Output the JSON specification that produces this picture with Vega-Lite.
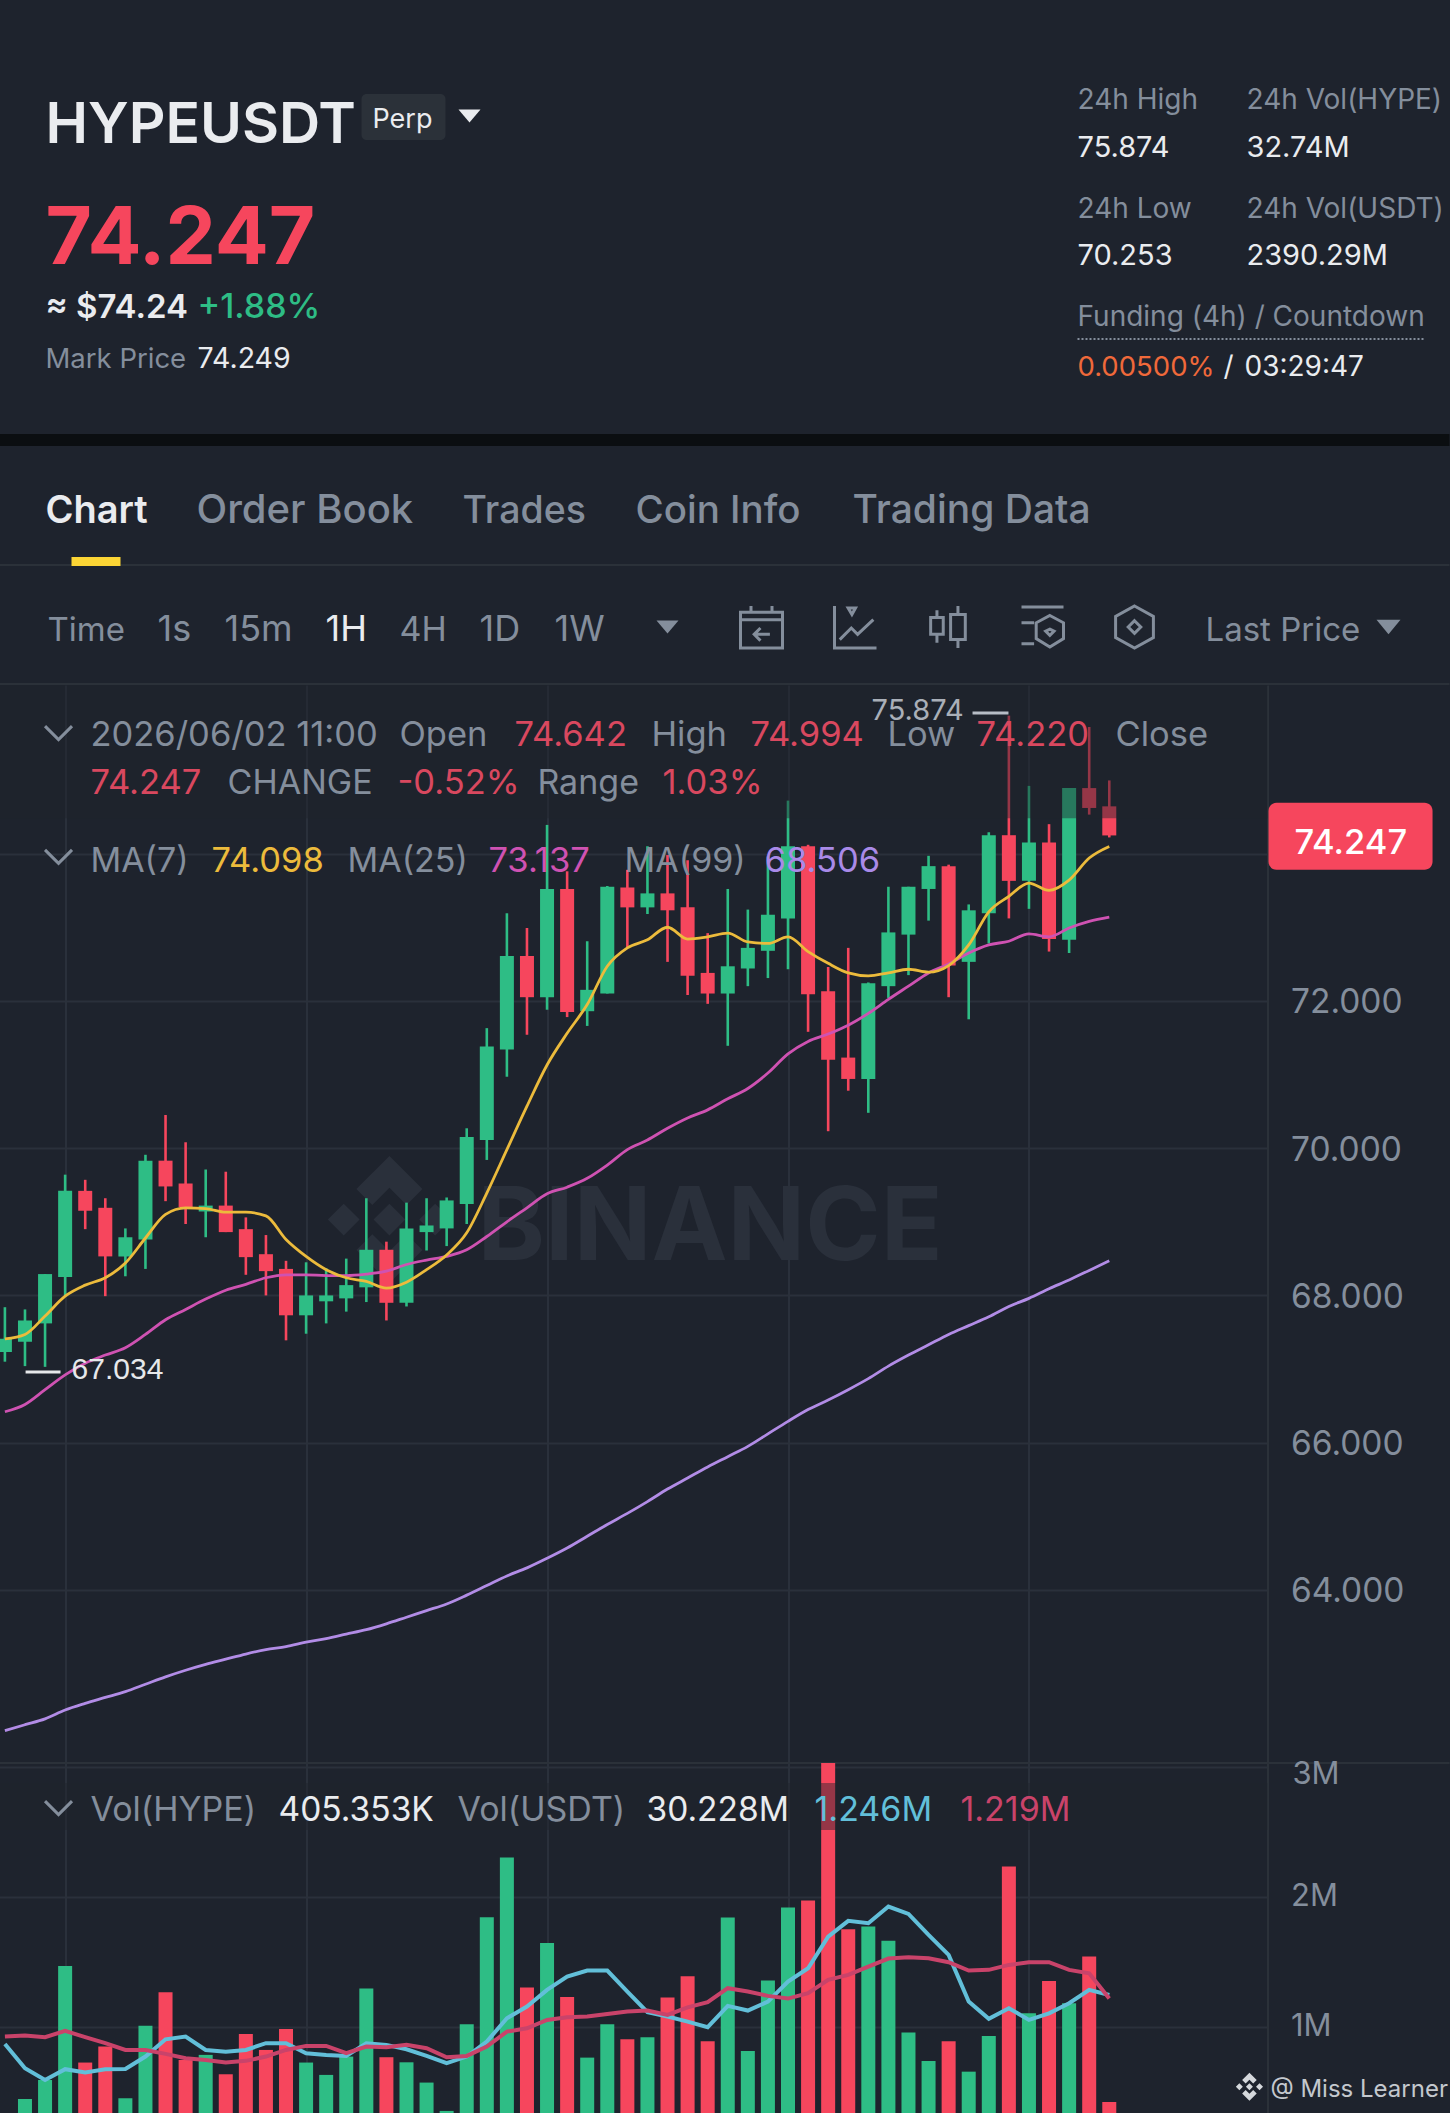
{
  "$schema": "https://vega.github.io/schema/vega-lite/v6.json",
  "background": "#1e232d",
  "padding": {"left": -2.5, "right": 0, "top": 0, "bottom": 0},
  "spacing": 0,
  "bounds": "flush",
  "config": {
    "view": {"stroke": null},
    "text": {"font": "Inter", "align": "left", "baseline": "alphabetic"},
    "concat": {"spacing": 0}
  },
  "datasets": {
    "candles": [
      {"i":0,"side":"up","open":67.23,"high":67.84,"low":67.10,"close":67.41,"ma7":67.41,"ma25":66.42,"ma99":62.09,"volume":0.30,"volFast":0.869,"volSlow":0.926},
      {"i":1,"side":"up","open":67.37,"high":67.81,"low":67.04,"close":67.66,"ma7":67.47,"ma25":66.52,"ma99":62.17,"volume":0.446,"volFast":0.682,"volSlow":0.934},
      {"i":2,"side":"up","open":67.62,"high":68.29,"low":67.03,"close":68.29,"ma7":67.72,"ma25":66.72,"ma99":62.25,"volume":0.592,"volFast":0.592,"volSlow":0.921},
      {"i":3,"side":"up","open":68.25,"high":69.64,"low":67.99,"close":69.42,"ma7":67.99,"ma25":66.92,"ma99":62.37,"volume":1.469,"volFast":0.675,"volSlow":0.969},
      {"i":4,"side":"down","open":69.42,"high":69.57,"low":68.90,"close":69.15,"ma7":68.14,"ma25":67.08,"ma99":62.46,"volume":0.726,"volFast":0.649,"volSlow":0.921},
      {"i":5,"side":"down","open":69.19,"high":69.32,"low":67.99,"close":68.53,"ma7":68.24,"ma25":67.19,"ma99":62.54,"volume":0.849,"volFast":0.675,"volSlow":0.875},
      {"i":6,"side":"up","open":68.53,"high":68.91,"low":68.26,"close":68.79,"ma7":68.44,"ma25":67.29,"ma99":62.62,"volume":0.451,"volFast":0.677,"volSlow":0.823},
      {"i":7,"side":"up","open":68.76,"high":69.91,"low":68.36,"close":69.83,"ma7":68.78,"ma25":67.47,"ma99":62.72,"volume":1.010,"volFast":0.772,"volSlow":0.823},
      {"i":8,"side":"down","open":69.83,"high":70.45,"low":69.28,"close":69.48,"ma7":69.10,"ma25":67.67,"ma99":62.82,"volume":1.267,"volFast":0.905,"volSlow":0.793},
      {"i":9,"side":"down","open":69.52,"high":70.08,"low":68.97,"close":69.20,"ma7":69.19,"ma25":67.81,"ma99":62.91,"volume":0.746,"volFast":0.926,"volSlow":0.759},
      {"i":10,"side":"up","open":69.14,"high":69.71,"low":68.79,"close":69.22,"ma7":69.18,"ma25":67.95,"ma99":62.99,"volume":0.785,"volFast":0.823,"volSlow":0.746},
      {"i":11,"side":"down","open":69.22,"high":69.68,"low":68.86,"close":68.86,"ma7":69.13,"ma25":68.07,"ma99":63.06,"volume":0.636,"volFast":0.810,"volSlow":0.726},
      {"i":12,"side":"down","open":68.90,"high":69.06,"low":68.28,"close":68.52,"ma7":69.13,"ma25":68.15,"ma99":63.13,"volume":0.946,"volFast":0.823,"volSlow":0.739},
      {"i":13,"side":"down","open":68.56,"high":68.82,"low":68.00,"close":68.33,"ma7":69.08,"ma25":68.24,"ma99":63.19,"volume":0.823,"volFast":0.875,"volSlow":0.772},
      {"i":14,"side":"down","open":68.36,"high":68.47,"low":67.39,"close":67.73,"ma7":68.76,"ma25":68.28,"ma99":63.23,"volume":0.985,"volFast":0.875,"volSlow":0.823},
      {"i":15,"side":"up","open":67.73,"high":68.45,"low":67.48,"close":68.00,"ma7":68.53,"ma25":68.28,"ma99":63.29,"volume":0.726,"volFast":0.798,"volSlow":0.854},
      {"i":16,"side":"up","open":67.92,"high":68.37,"low":67.62,"close":68.00,"ma7":68.35,"ma25":68.27,"ma99":63.34,"volume":0.631,"volFast":0.785,"volSlow":0.854},
      {"i":17,"side":"up","open":67.96,"high":68.50,"low":67.78,"close":68.14,"ma7":68.24,"ma25":68.27,"ma99":63.40,"volume":0.772,"volFast":0.777,"volSlow":0.798},
      {"i":18,"side":"up","open":68.11,"high":69.32,"low":67.91,"close":68.62,"ma7":68.19,"ma25":68.29,"ma99":63.46,"volume":1.295,"volFast":0.875,"volSlow":0.849},
      {"i":19,"side":"down","open":68.62,"high":68.73,"low":67.66,"close":67.90,"ma7":68.10,"ma25":68.33,"ma99":63.54,"volume":0.767,"volFast":0.862,"volSlow":0.844},
      {"i":20,"side":"up","open":67.90,"high":69.26,"low":67.85,"close":68.91,"ma7":68.18,"ma25":68.42,"ma99":63.63,"volume":0.728,"volFast":0.828,"volSlow":0.862},
      {"i":21,"side":"up","open":68.86,"high":69.32,"low":68.61,"close":68.95,"ma7":68.35,"ma25":68.48,"ma99":63.72,"volume":0.572,"volFast":0.777,"volSlow":0.836},
      {"i":22,"side":"up","open":68.91,"high":69.33,"low":68.67,"close":69.29,"ma7":68.55,"ma25":68.53,"ma99":63.81,"volume":0.354,"volFast":0.721,"volSlow":0.767},
      {"i":23,"side":"up","open":69.24,"high":70.27,"low":68.97,"close":70.15,"ma7":68.85,"ma25":68.62,"ma99":63.93,"volume":1.021,"volFast":0.772,"volSlow":0.777},
      {"i":24,"side":"up","open":70.11,"high":71.63,"low":69.84,"close":71.38,"ma7":69.39,"ma25":68.80,"ma99":64.06,"volume":1.844,"volFast":0.887,"volSlow":0.849},
      {"i":25,"side":"up","open":71.34,"high":73.19,"low":70.97,"close":72.61,"ma7":69.98,"ma25":69.00,"ma99":64.19,"volume":2.303,"volFast":1.067,"volSlow":0.964},
      {"i":26,"side":"down","open":72.61,"high":72.99,"low":71.54,"close":72.05,"ma7":70.57,"ma25":69.19,"ma99":64.30,"volume":1.303,"volFast":1.157,"volSlow":0.990},
      {"i":27,"side":"up","open":72.05,"high":74.39,"low":71.88,"close":73.52,"ma7":71.13,"ma25":69.38,"ma99":64.43,"volume":1.646,"volFast":1.285,"volSlow":1.054},
      {"i":28,"side":"down","open":73.52,"high":73.76,"low":71.78,"close":71.85,"ma7":71.56,"ma25":69.47,"ma99":64.57,"volume":1.231,"volFast":1.387,"volSlow":1.075},
      {"i":29,"side":"up","open":71.86,"high":72.81,"low":71.66,"close":72.15,"ma7":71.95,"ma25":69.59,"ma99":64.73,"volume":0.764,"volFast":1.434,"volSlow":1.080},
      {"i":30,"side":"up","open":72.10,"high":73.56,"low":72.10,"close":73.55,"ma7":72.47,"ma25":69.77,"ma99":64.89,"volume":1.021,"volFast":1.434,"volSlow":1.100},
      {"i":31,"side":"down","open":73.54,"high":73.78,"low":72.72,"close":73.27,"ma7":72.72,"ma25":69.98,"ma99":65.04,"volume":0.905,"volFast":1.272,"volSlow":1.118},
      {"i":32,"side":"up","open":73.27,"high":74.10,"low":73.18,"close":73.46,"ma7":72.83,"ma25":70.11,"ma99":65.20,"volume":0.921,"volFast":1.113,"volSlow":1.126},
      {"i":33,"side":"down","open":73.46,"high":73.98,"low":72.53,"close":73.23,"ma7":73.00,"ma25":70.27,"ma99":65.37,"volume":1.226,"volFast":1.080,"volSlow":1.092},
      {"i":34,"side":"down","open":73.27,"high":73.91,"low":72.08,"close":72.34,"ma7":72.84,"ma25":70.41,"ma99":65.52,"volume":1.390,"volFast":1.041,"volSlow":1.151},
      {"i":35,"side":"down","open":72.38,"high":72.92,"low":71.96,"close":72.10,"ma7":72.87,"ma25":70.52,"ma99":65.67,"volume":0.890,"volFast":0.998,"volSlow":1.190},
      {"i":36,"side":"up","open":72.10,"high":73.52,"low":71.39,"close":72.47,"ma7":72.92,"ma25":70.67,"ma99":65.81,"volume":1.841,"volFast":1.162,"volSlow":1.298},
      {"i":37,"side":"up","open":72.44,"high":73.24,"low":72.20,"close":72.72,"ma7":72.80,"ma25":70.81,"ma99":65.95,"volume":0.815,"volFast":1.126,"volSlow":1.272},
      {"i":38,"side":"up","open":72.68,"high":73.96,"low":72.31,"close":73.17,"ma7":72.78,"ma25":71.02,"ma99":66.12,"volume":1.357,"volFast":1.195,"volSlow":1.239},
      {"i":39,"side":"up","open":73.12,"high":74.72,"low":72.43,"close":74.10,"ma7":72.87,"ma25":71.28,"ma99":66.29,"volume":1.918,"volFast":1.349,"volSlow":1.218},
      {"i":40,"side":"down","open":74.10,"high":74.12,"low":71.58,"close":72.09,"ma7":72.67,"ma25":71.45,"ma99":66.45,"volume":1.972,"volFast":1.451,"volSlow":1.259},
      {"i":41,"side":"down","open":72.13,"high":72.46,"low":70.23,"close":71.20,"ma7":72.51,"ma25":71.55,"ma99":66.58,"volume":3.05,"volFast":1.695,"volSlow":1.362},
      {"i":42,"side":"down","open":71.23,"high":72.72,"low":70.78,"close":70.94,"ma7":72.38,"ma25":71.67,"ma99":66.72,"volume":1.751,"volFast":1.816,"volSlow":1.400},
      {"i":43,"side":"up","open":70.94,"high":72.25,"low":70.48,"close":72.24,"ma7":72.34,"ma25":71.83,"ma99":66.87,"volume":1.772,"volFast":1.798,"volSlow":1.464},
      {"i":44,"side":"up","open":72.20,"high":73.55,"low":72.04,"close":72.93,"ma7":72.38,"ma25":72.02,"ma99":67.04,"volume":1.662,"volFast":1.926,"volSlow":1.526},
      {"i":45,"side":"up","open":72.90,"high":73.55,"low":72.35,"close":73.55,"ma7":72.43,"ma25":72.20,"ma99":67.19,"volume":0.957,"volFast":1.869,"volSlow":1.536},
      {"i":46,"side":"up","open":73.52,"high":73.97,"low":73.09,"close":73.83,"ma7":72.39,"ma25":72.38,"ma99":67.33,"volume":0.738,"volFast":1.708,"volSlow":1.528},
      {"i":47,"side":"down","open":73.83,"high":73.85,"low":72.05,"close":72.48,"ma7":72.48,"ma25":72.50,"ma99":67.47,"volume":0.890,"volFast":1.554,"volSlow":1.498},
      {"i":48,"side":"up","open":72.53,"high":73.31,"low":71.75,"close":73.23,"ma7":72.76,"ma25":72.65,"ma99":67.59,"volume":0.656,"volFast":1.195,"volSlow":1.434},
      {"i":49,"side":"up","open":73.19,"high":74.29,"low":72.78,"close":74.25,"ma7":73.21,"ma25":72.76,"ma99":67.71,"volume":0.931,"volFast":1.062,"volSlow":1.439},
      {"i":50,"side":"down","open":74.25,"high":75.874,"low":73.12,"close":73.63,"ma7":73.42,"ma25":72.81,"ma99":67.85,"volume":2.233,"volFast":1.144,"volSlow":1.477},
      {"i":51,"side":"up","open":73.63,"high":74.92,"low":73.25,"close":74.15,"ma7":73.60,"ma25":72.91,"ma99":67.96,"volume":1.105,"volFast":1.054,"volSlow":1.498},
      {"i":52,"side":"down","open":74.15,"high":74.40,"low":72.67,"close":72.84,"ma7":73.50,"ma25":72.87,"ma99":68.09,"volume":1.354,"volFast":1.105,"volSlow":1.498},
      {"i":53,"side":"up","open":72.83,"high":74.89,"low":72.65,"close":74.89,"ma7":73.64,"ma25":72.99,"ma99":68.21,"volume":1.182,"volFast":1.182,"volSlow":1.439},
      {"i":54,"side":"down","open":74.89,"high":75.72,"low":74.53,"close":74.62,"ma7":73.94,"ma25":73.08,"ma99":68.34,"volume":1.541,"volFast":1.285,"volSlow":1.413},
      {"i":55,"side":"down","open":74.642,"high":74.994,"low":74.220,"close":74.247,"ma7":74.098,"ma25":73.137,"ma99":68.47,"volume":0.423,"volFast":1.246,"volSlow":1.219}
    ]
  },
  "vconcat": [
    {
      "width": 1450,
      "height": 685,
      "data": {"values": [{"panel": "header"}]},
      "encoding": {
        "x": {"type": "quantitative", "scale": {"domain": [0, 1450], "nice": false, "zero": false}, "axis": null},
        "y": {"type": "quantitative", "scale": {"domain": [685, 0], "nice": false, "zero": false}, "axis": null}
      },
      "layer": [
        {"mark": {"type": "rect", "color": "#0b0e11"}, "encoding": {"x": {"datum": 0}, "x2": {"datum": 1450}, "y": {"datum": 434}, "y2": {"datum": 446}}},
        {"mark": {"type": "rule", "color": "#2b3139", "strokeWidth": 2}, "encoding": {"x": {"datum": 0}, "x2": {"datum": 1450}, "y": {"datum": 565}}},
        {"mark": {"type": "rule", "color": "#2b3139", "strokeWidth": 2}, "encoding": {"x": {"datum": 0}, "x2": {"datum": 1450}, "y": {"datum": 684}}},
        {"mark": {"type": "rect", "color": "#fcd535"}, "encoding": {"x": {"datum": 72}, "x2": {"datum": 121}, "y": {"datum": 557}, "y2": {"datum": 566}}},
        {"mark": {"type": "rect", "color": "#2b3139", "cornerRadius": 5}, "encoding": {"x": {"datum": 362}, "x2": {"datum": 446}, "y": {"datum": 94}, "y2": {"datum": 140}}},
        {"mark": {"type": "point", "shape": "M-1,-.6 L1,-.6 0,.6 Z", "size": 484, "filled": true, "opacity": 1, "color": "#eaecef"}, "encoding": {"x": {"datum": 470}, "y": {"datum": 116}}},
        {"mark": {"type": "point", "shape": "M-1,-.6 L1,-.6 0,.6 Z", "size": 484, "filled": true, "opacity": 1, "color": "#848e9c"}, "encoding": {"x": {"datum": 668}, "y": {"datum": 627}}},
        {"mark": {"type": "point", "shape": "M-1,-.6 L1,-.6 0,.6 Z", "size": 576, "filled": true, "opacity": 1, "color": "#848e9c"}, "encoding": {"x": {"datum": 1389}, "y": {"datum": 627}}},
        {"mark": {"type": "rule", "color": "#848e9c", "strokeWidth": 2, "strokeDash": [2, 2]}, "encoding": {"x": {"datum": 1078}, "x2": {"datum": 1425}, "y": {"datum": 339}}},
        {"mark": {"type": "point", "filled": false, "opacity": 1, "stroke": "#848e9c", "strokeWidth": 3, "size": 1764, "shape": "M-1,-.7 H1 V1 H-1 Z M-1,-.35 H1 M-.5,-1 V-.7 M.5,-1 V-.7 M.4,.35 H-.35 M-.05,.05 L-.35,.35 -.05,.65"}, "encoding": {"x": {"datum": 762}, "y": {"datum": 627}}},
        {"mark": {"type": "point", "filled": false, "opacity": 1, "stroke": "#848e9c", "strokeWidth": 3, "size": 1764, "shape": "M-1,-1 V1 H1 M-.75,.6 L-.2,.05 .1,.35 .85,-.35 M-.35,-.9 H0 L-.17,-.6 Z"}, "encoding": {"x": {"datum": 856}, "y": {"datum": 627}}},
        {"mark": {"type": "point", "filled": false, "opacity": 1, "stroke": "#848e9c", "strokeWidth": 3, "size": 1764, "shape": "M-.85,-.45 H-.25 V.35 H-.85 Z M-.55,-.8 V-.45 M-.55,.35 V.75 M.1,-.6 H.8 V.6 H.1 Z M.45,-1 V-.6 M.45,.6 V1"}, "encoding": {"x": {"datum": 949}, "y": {"datum": 627}}},
        {"mark": {"type": "point", "filled": false, "opacity": 1, "stroke": "#848e9c", "strokeWidth": 3, "size": 1764, "shape": "M-1,-.95 H1 M-1,-.2 H-.4 M-1,.8 H-.4 M.35,-.55 L1,-.2 V.55 L.35,.95 -.3,.55 V-.2 Z M.35,.1 L.55,.2 .35,.4 .15,.2 Z"}, "encoding": {"x": {"datum": 1043}, "y": {"datum": 627}}},
        {"mark": {"type": "point", "filled": false, "opacity": 1, "stroke": "#848e9c", "strokeWidth": 3, "size": 1764, "shape": "M0,-1 L.9,-.5 V.5 L0,1 -.9,.5 V-.5 Z M0,-.3 L.3,0 0,.3 -.3,0 Z"}, "encoding": {"x": {"datum": 1135}, "y": {"datum": 627}}},
        {"mark": {"type": "text", "fontSize": 57, "fontWeight": 600, "color": "#eaecef"}, "encoding": {"x": {"datum": 46}, "y": {"datum": 143}, "text": {"value": "HYPEUSDT"}}},
        {"mark": {"type": "text", "fontSize": 27, "color": "#eaecef"}, "encoding": {"x": {"datum": 373}, "y": {"datum": 128}, "text": {"value": "Perp"}}},
        {"mark": {"type": "text", "fontSize": 80, "fontWeight": 700, "color": "#f6465d"}, "encoding": {"x": {"datum": 46}, "y": {"datum": 264}, "text": {"value": "74.247"}}},
        {"mark": {"type": "text", "fontSize": 33, "fontWeight": 600, "color": "#eaecef"}, "encoding": {"x": {"datum": 46}, "y": {"datum": 318}, "text": {"value": "≈ $74.24"}}},
        {"mark": {"type": "text", "fontSize": 34, "fontWeight": 500, "color": "#2ebd85"}, "encoding": {"x": {"datum": 198}, "y": {"datum": 318}, "text": {"value": "+1.88%"}}},
        {"mark": {"type": "text", "fontSize": 27.5, "color": "#848e9c"}, "encoding": {"x": {"datum": 46}, "y": {"datum": 368}, "text": {"value": "Mark Price"}}},
        {"mark": {"type": "text", "fontSize": 28.5, "color": "#eaecef"}, "encoding": {"x": {"datum": 198}, "y": {"datum": 368}, "text": {"value": "74.249"}}},
        {"mark": {"type": "text", "fontSize": 28, "color": "#848e9c"}, "encoding": {"x": {"datum": 1078}, "y": {"datum": 109}, "text": {"value": "24h High"}}},
        {"mark": {"type": "text", "fontSize": 28, "color": "#848e9c"}, "encoding": {"x": {"datum": 1247}, "y": {"datum": 109}, "text": {"value": "24h Vol(HYPE)"}}},
        {"mark": {"type": "text", "fontSize": 29, "color": "#eaecef"}, "encoding": {"x": {"datum": 1078}, "y": {"datum": 157}, "text": {"value": "75.874"}}},
        {"mark": {"type": "text", "fontSize": 29, "color": "#eaecef"}, "encoding": {"x": {"datum": 1247}, "y": {"datum": 157}, "text": {"value": "32.74M"}}},
        {"mark": {"type": "text", "fontSize": 28, "color": "#848e9c"}, "encoding": {"x": {"datum": 1078}, "y": {"datum": 218}, "text": {"value": "24h Low"}}},
        {"mark": {"type": "text", "fontSize": 28, "color": "#848e9c"}, "encoding": {"x": {"datum": 1247}, "y": {"datum": 218}, "text": {"value": "24h Vol(USDT)"}}},
        {"mark": {"type": "text", "fontSize": 29, "color": "#eaecef"}, "encoding": {"x": {"datum": 1078}, "y": {"datum": 265}, "text": {"value": "70.253"}}},
        {"mark": {"type": "text", "fontSize": 29, "color": "#eaecef"}, "encoding": {"x": {"datum": 1247}, "y": {"datum": 265}, "text": {"value": "2390.29M"}}},
        {"mark": {"type": "text", "fontSize": 28, "color": "#848e9c"}, "encoding": {"x": {"datum": 1078}, "y": {"datum": 326}, "text": {"value": "Funding (4h) / Countdown"}}},
        {"mark": {"type": "text", "fontSize": 27.5, "color": "#f0693a"}, "encoding": {"x": {"datum": 1078}, "y": {"datum": 376}, "text": {"value": "0.00500%"}}},
        {"mark": {"type": "text", "fontSize": 28, "color": "#eaecef"}, "encoding": {"x": {"datum": 1224}, "y": {"datum": 376}, "text": {"value": "/"}}},
        {"mark": {"type": "text", "fontSize": 28, "color": "#eaecef"}, "encoding": {"x": {"datum": 1245}, "y": {"datum": 376}, "text": {"value": "03:29:47"}}},
        {"mark": {"type": "text", "fontSize": 38, "fontWeight": 600, "color": "#eaecef"}, "encoding": {"x": {"datum": 46}, "y": {"datum": 523}, "text": {"value": "Chart"}}},
        {"mark": {"type": "text", "fontSize": 40, "fontWeight": 500, "color": "#848e9c"}, "encoding": {"x": {"datum": 197}, "y": {"datum": 523}, "text": {"value": "Order Book"}}},
        {"mark": {"type": "text", "fontSize": 37.5, "fontWeight": 500, "color": "#848e9c"}, "encoding": {"x": {"datum": 463}, "y": {"datum": 523}, "text": {"value": "Trades"}}},
        {"mark": {"type": "text", "fontSize": 38.5, "fontWeight": 500, "color": "#848e9c"}, "encoding": {"x": {"datum": 636}, "y": {"datum": 523}, "text": {"value": "Coin Info"}}},
        {"mark": {"type": "text", "fontSize": 39, "fontWeight": 500, "color": "#848e9c"}, "encoding": {"x": {"datum": 853}, "y": {"datum": 523}, "text": {"value": "Trading Data"}}},
        {"mark": {"type": "text", "fontSize": 33, "color": "#848e9c"}, "encoding": {"x": {"datum": 48}, "y": {"datum": 641}, "text": {"value": "Time"}}},
        {"mark": {"type": "text", "fontSize": 36, "color": "#848e9c"}, "encoding": {"x": {"datum": 158}, "y": {"datum": 641}, "text": {"value": "1s"}}},
        {"mark": {"type": "text", "fontSize": 36, "color": "#848e9c"}, "encoding": {"x": {"datum": 225}, "y": {"datum": 641}, "text": {"value": "15m"}}},
        {"mark": {"type": "text", "fontSize": 36, "color": "#eaecef"}, "encoding": {"x": {"datum": 326}, "y": {"datum": 641}, "text": {"value": "1H"}}},
        {"mark": {"type": "text", "fontSize": 34, "color": "#848e9c"}, "encoding": {"x": {"datum": 400}, "y": {"datum": 641}, "text": {"value": "4H"}}},
        {"mark": {"type": "text", "fontSize": 36, "color": "#848e9c"}, "encoding": {"x": {"datum": 480}, "y": {"datum": 641}, "text": {"value": "1D"}}},
        {"mark": {"type": "text", "fontSize": 36, "color": "#848e9c"}, "encoding": {"x": {"datum": 555}, "y": {"datum": 641}, "text": {"value": "1W"}}},
        {"mark": {"type": "text", "fontSize": 33, "color": "#848e9c"}, "encoding": {"x": {"datum": 1206}, "y": {"datum": 641}, "text": {"value": "Last Price"}}}
      ]
    },
    {
      "width": 1268,
      "height": 1078,
      "data": {"values": [{"panel": "price"}]},
      "encoding": {
        "x": {"type": "quantitative", "title": null, "scale": {"domain": [-0.269, 62.88], "nice": false, "zero": false, "padding": 0}, "axis": {"orient": "bottom", "values": [3, 15, 27, 39, 51], "labels": false, "ticks": false, "domain": false, "title": null, "grid": true, "gridColor": "#2a303b", "gridWidth": 2}},
        "y": {"type": "quantitative", "title": null, "scale": {"domain": [61.65, 76.29], "nice": false, "zero": false}, "axis": {"orient": "right", "values": [64, 66, 68, 70, 72, 74], "labelExpr": "datum.value == 74 ? '' : format(datum.value, '.3f')", "title": null, "grid": true, "gridColor": "#2a303b", "gridWidth": 2, "domain": true, "domainColor": "#2b3139", "domainWidth": 2, "ticks": false, "labelPadding": 23, "labelOffset": 2, "labelFontSize": 33.5, "labelFont": "Inter", "labelColor": "#848e9c", "labelOverlap": false, "labelBound": false, "labelFlush": false}}
      },
      "layer": [
        {"mark": {"type": "text", "fontSize": 102, "fontWeight": 700, "color": "#2a303b"}, "encoding": {"x": {"datum": 23.54}, "y": {"datum": 68.48}, "text": {"value": "BINANCE"}}},
        {"mark": {"type": "point", "filled": true, "opacity": 1, "color": "#2a303b", "size": 16129, "shape": "M0,-.25 L.25,0 0,.25 -.25,0 Z M-.72,-.25 L-.47,0 -.72,.25 -.97,0 Z M.72,-.25 L.97,0 .72,.25 .47,0 Z M0,-1 L.52,-.48 .27,-.23 0,-.5 -.27,-.23 -.52,-.48 Z M0,1 L.52,.48 .27,.23 0,.5 -.27,.23 -.52,.48 Z"}, "encoding": {"x": {"datum": 19.15}, "y": {"datum": 69.03}}},
        {"data": {"name": "candles"}, "mark": {"type": "rule", "strokeWidth": 2.6}, "encoding": {"x": {"field": "i"}, "y": {"field": "low"}, "y2": {"field": "high"}, "color": {"field": "side", "type": "nominal", "scale": {"domain": ["up", "down"], "range": ["#2ebd85", "#f6465d"]}, "legend": null}}},
        {"data": {"name": "candles"}, "mark": {"type": "bar", "size": 14}, "encoding": {"x": {"field": "i"}, "y": {"field": "open"}, "y2": {"field": "close"}, "color": {"field": "side", "type": "nominal", "scale": {"domain": ["up", "down"], "range": ["#2ebd85", "#f6465d"]}, "legend": null}}},
        {"data": {"name": "candles"}, "mark": {"type": "line", "color": "#b28ce6", "strokeWidth": 2.8, "interpolate": "monotone"}, "encoding": {"x": {"field": "i"}, "y": {"field": "ma99"}}},
        {"data": {"name": "candles"}, "mark": {"type": "line", "color": "#cf52b2", "strokeWidth": 2.8, "interpolate": "monotone"}, "encoding": {"x": {"field": "i"}, "y": {"field": "ma25"}}},
        {"data": {"name": "candles"}, "mark": {"type": "line", "color": "#ecbb3c", "strokeWidth": 2.8, "interpolate": "monotone"}, "encoding": {"x": {"field": "i"}, "y": {"field": "ma7"}}},
        {"mark": {"type": "rect", "color": "#1e232d", "opacity": 0.45}, "encoding": {"x": {"datum": -0.269}, "x2": {"datum": 62.88}, "y": {"datum": 76.29}, "y2": {"datum": 74.48}}},
        {"mark": {"type": "rule", "color": "#2b3139", "strokeWidth": 2}, "encoding": {"x": {"datum": -0.269}, "x2": {"datum": 71.95}, "y": {"datum": 61.65}}},
        {"mark": {"type": "rect", "color": "#f6465d", "cornerRadius": 8}, "encoding": {"x": {"datum": 62.93}, "x2": {"datum": 71.1}, "y": {"datum": 74.69}, "y2": {"datum": 73.78}}},
        {"mark": {"type": "text", "fontSize": 34.5, "fontWeight": 500, "color": "#ffffff"}, "encoding": {"x": {"datum": 64.22}, "y": {"datum": 74.0}, "text": {"value": "74.247"}}},
        {"mark": {"type": "rule", "color": "#b7bdc6", "strokeWidth": 3}, "encoding": {"x": {"datum": 48.19}, "x2": {"datum": 49.98}, "y": {"datum": 75.91}}},
        {"mark": {"type": "text", "fontSize": 29, "color": "#a9afb8"}, "encoding": {"x": {"datum": 43.16}, "y": {"datum": 75.82}, "text": {"value": "75.874"}}},
        {"mark": {"type": "rule", "color": "#e6e8ea", "strokeWidth": 3}, "encoding": {"x": {"datum": 1.03}, "x2": {"datum": 2.77}, "y": {"datum": 66.96}}},
        {"mark": {"type": "text", "fontSize": 30, "color": "#e6e8ea", "font": "Liberation Sans"}, "encoding": {"x": {"datum": 3.32}, "y": {"datum": 66.87}, "text": {"value": "67.034"}}},
        {"mark": {"type": "point", "filled": false, "opacity": 1, "stroke": "#848e9c", "strokeWidth": 3, "size": 729, "shape": "M-1,-.5 L0,.5 1,-.5"}, "encoding": {"x": {"datum": 2.67}, "y": {"datum": 75.64}}},
        {"mark": {"type": "point", "filled": false, "opacity": 1, "stroke": "#848e9c", "strokeWidth": 3, "size": 729, "shape": "M-1,-.5 L0,.5 1,-.5"}, "encoding": {"x": {"datum": 2.67}, "y": {"datum": 73.96}}},
        {"mark": {"type": "text", "fontSize": 34.5, "color": "#848e9c"}, "encoding": {"x": {"datum": 4.26}, "y": {"datum": 75.46}, "text": {"value": "2026/06/02 11:00"}}},
        {"mark": {"type": "text", "fontSize": 34.5, "color": "#848e9c"}, "encoding": {"x": {"datum": 19.65}, "y": {"datum": 75.46}, "text": {"value": "Open"}}},
        {"mark": {"type": "text", "fontSize": 34.5, "color": "#d9485f"}, "encoding": {"x": {"datum": 25.38}, "y": {"datum": 75.46}, "text": {"value": "74.642"}}},
        {"mark": {"type": "text", "fontSize": 34.5, "color": "#848e9c"}, "encoding": {"x": {"datum": 32.2}, "y": {"datum": 75.46}, "text": {"value": "High"}}},
        {"mark": {"type": "text", "fontSize": 34.5, "color": "#d9485f"}, "encoding": {"x": {"datum": 37.13}, "y": {"datum": 75.46}, "text": {"value": "74.994"}}},
        {"mark": {"type": "text", "fontSize": 34.5, "color": "#848e9c"}, "encoding": {"x": {"datum": 43.95}, "y": {"datum": 75.46}, "text": {"value": "Low"}}},
        {"mark": {"type": "text", "fontSize": 34.5, "color": "#d9485f"}, "encoding": {"x": {"datum": 48.39}, "y": {"datum": 75.46}, "text": {"value": "74.220"}}},
        {"mark": {"type": "text", "fontSize": 34.5, "color": "#848e9c"}, "encoding": {"x": {"datum": 55.31}, "y": {"datum": 75.46}, "text": {"value": "Close"}}},
        {"mark": {"type": "text", "fontSize": 34.5, "color": "#d9485f"}, "encoding": {"x": {"datum": 4.26}, "y": {"datum": 74.81}, "text": {"value": "74.247"}}},
        {"mark": {"type": "text", "fontSize": 34, "color": "#848e9c"}, "encoding": {"x": {"datum": 11.09}, "y": {"datum": 74.81}, "text": {"value": "CHANGE"}}},
        {"mark": {"type": "text", "fontSize": 34.5, "color": "#d9485f"}, "encoding": {"x": {"datum": 19.55}, "y": {"datum": 74.81}, "text": {"value": "-0.52%"}}},
        {"mark": {"type": "text", "fontSize": 34, "color": "#848e9c"}, "encoding": {"x": {"datum": 26.52}, "y": {"datum": 74.81}, "text": {"value": "Range"}}},
        {"mark": {"type": "text", "fontSize": 34.5, "color": "#d9485f"}, "encoding": {"x": {"datum": 32.75}, "y": {"datum": 74.81}, "text": {"value": "1.03%"}}},
        {"mark": {"type": "text", "fontSize": 34, "color": "#848e9c"}, "encoding": {"x": {"datum": 4.26}, "y": {"datum": 73.75}, "text": {"value": "MA(7)"}}},
        {"mark": {"type": "text", "fontSize": 34.5, "color": "#ecbb3c"}, "encoding": {"x": {"datum": 10.29}, "y": {"datum": 73.75}, "text": {"value": "74.098"}}},
        {"mark": {"type": "text", "fontSize": 34, "color": "#848e9c"}, "encoding": {"x": {"datum": 17.06}, "y": {"datum": 73.75}, "text": {"value": "MA(25)"}}},
        {"mark": {"type": "text", "fontSize": 34.5, "color": "#cf52b2"}, "encoding": {"x": {"datum": 24.08}, "y": {"datum": 73.75}, "text": {"value": "73.137"}}},
        {"mark": {"type": "text", "fontSize": 34, "color": "#848e9c"}, "encoding": {"x": {"datum": 30.86}, "y": {"datum": 73.75}, "text": {"value": "MA(99)"}}},
        {"mark": {"type": "text", "fontSize": 34.5, "color": "#a98ae8"}, "encoding": {"x": {"datum": 37.83}, "y": {"datum": 73.75}, "text": {"value": "68.506"}}}
      ]
    },
    {
      "width": 1268,
      "height": 350,
      "data": {"values": [{"panel": "volume"}]},
      "encoding": {
        "x": {"type": "quantitative", "title": null, "scale": {"domain": [-0.269, 62.88], "nice": false, "zero": false, "padding": 0}, "axis": {"orient": "bottom", "values": [3, 15, 27, 39, 51], "labels": false, "ticks": false, "domain": false, "title": null, "grid": true, "gridColor": "#2a303b", "gridWidth": 2}},
        "y": {"type": "quantitative", "title": null, "stack": null, "scale": {"domain": [0.338, 3.03], "nice": false, "zero": false}, "axis": {"orient": "right", "values": [1, 2, 3], "labelExpr": "datum.value == 3 ? '' : datum.value + 'M'", "title": null, "grid": true, "gridColor": "#2a303b", "gridWidth": 2, "domain": true, "domainColor": "#2b3139", "domainWidth": 2, "ticks": false, "labelPadding": 23, "labelFontSize": 31, "labelFont": "Inter", "labelColor": "#848e9c", "labelOverlap": false, "labelBound": false, "labelFlush": false}}
      },
      "layer": [
        {"data": {"name": "candles"}, "mark": {"type": "bar", "size": 14, "clip": true}, "encoding": {"x": {"field": "i"}, "y": {"field": "volume"}, "color": {"field": "side", "type": "nominal", "scale": {"domain": ["up", "down"], "range": ["#2ebd85", "#f6465d"]}, "legend": null}}},
        {"mark": {"type": "rect", "color": "#1e232d", "opacity": 0.45}, "encoding": {"x": {"datum": -0.269}, "x2": {"datum": 62.88}, "y": {"datum": 2.877}, "y2": {"datum": 2.515}}},
        {"data": {"name": "candles"}, "mark": {"type": "line", "color": "#62bfd9", "strokeWidth": 4, "clip": true}, "encoding": {"x": {"field": "i"}, "y": {"field": "volFast"}}},
        {"data": {"name": "candles"}, "mark": {"type": "line", "color": "#c9436a", "strokeWidth": 4, "clip": true}, "encoding": {"x": {"field": "i"}, "y": {"field": "volSlow"}}},
        {"mark": {"type": "point", "filled": false, "opacity": 1, "stroke": "#848e9c", "strokeWidth": 3, "size": 729, "shape": "M-1,-.5 L0,.5 1,-.5"}, "encoding": {"x": {"datum": 2.67}, "y": {"datum": 2.685}}},
        {"mark": {"type": "text", "fontSize": 34, "color": "#848e9c"}, "encoding": {"x": {"datum": 4.26}, "y": {"datum": 2.585}, "text": {"value": "Vol(HYPE)"}}},
        {"mark": {"type": "text", "fontSize": 33.5, "color": "#eaecef"}, "encoding": {"x": {"datum": 13.63}, "y": {"datum": 2.585}, "text": {"value": "405.353K"}}},
        {"mark": {"type": "text", "fontSize": 34, "color": "#848e9c"}, "encoding": {"x": {"datum": 22.54}, "y": {"datum": 2.585}, "text": {"value": "Vol(USDT)"}}},
        {"mark": {"type": "text", "fontSize": 33.5, "color": "#eaecef"}, "encoding": {"x": {"datum": 31.95}, "y": {"datum": 2.585}, "text": {"value": "30.228M"}}},
        {"mark": {"type": "text", "fontSize": 34, "color": "#62bfd9"}, "encoding": {"x": {"datum": 40.32}, "y": {"datum": 2.585}, "text": {"value": "1.246M"}}},
        {"mark": {"type": "text", "fontSize": 34, "color": "#c9436a"}, "encoding": {"x": {"datum": 47.59}, "y": {"datum": 2.585}, "text": {"value": "1.219M"}}},
        {"mark": {"type": "text", "fontSize": 31, "color": "#848e9c", "baseline": "middle"}, "encoding": {"x": {"datum": 64.12}, "y": {"datum": 2.94}, "text": {"value": "3M"}}},
        {"mark": {"type": "point", "filled": true, "opacity": 1, "color": "#d5d8dc", "size": 784, "shape": "M0,-.25 L.25,0 0,.25 -.25,0 Z M-.72,-.25 L-.47,0 -.72,.25 -.97,0 Z M.72,-.25 L.97,0 .72,.25 .47,0 Z M0,-1 L.52,-.48 .27,-.23 0,-.5 -.27,-.23 -.52,-.48 Z M0,1 L.52,.48 .27,.23 0,.5 -.27,.23 -.52,.48 Z"}, "encoding": {"x": {"datum": 61.98}, "y": {"datum": 0.54}}},
        {"mark": {"type": "text", "fontSize": 24, "color": "#c4c8ce"}, "encoding": {"x": {"datum": 63.03}, "y": {"datum": 0.46}, "text": {"value": "@ Miss Learner"}}}
      ]
    }
  ]
}
